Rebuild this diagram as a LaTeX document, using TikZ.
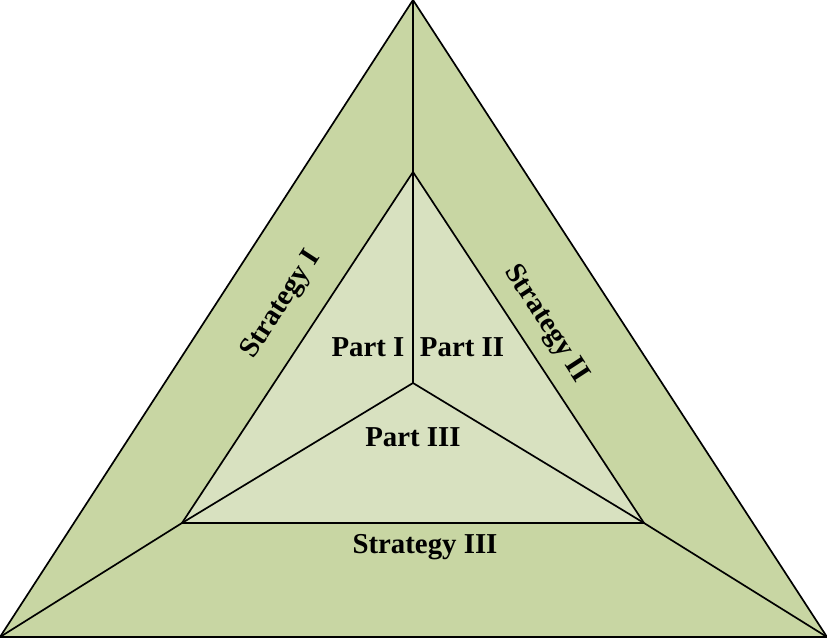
\documentclass[tikz,border=0pt]{standalone}
\usepackage{fontspec}
\setmainfont{Liberation Serif}
\definecolor{outergreen}{HTML}{C8D6A3}
\definecolor{innergreen}{HTML}{D8E1C0}

\begin{document}
\begin{tikzpicture}[x=0.025cm, y=-0.025cm, line width=1.2pt,
        label/.style={font=\fontsize{20.5}{24}\selectfont\bfseries, inner sep=0pt}]
        \useasboundingbox (0, 0) rectangle (827, 637);

        \coordinate (T) at (413, 0);
        \coordinate (L) at (0, 637);
        \coordinate (R) at (827, 637);
        \coordinate (t) at (413, 172);
        \coordinate (l) at (182, 523);
        \coordinate (r) at (644, 523);
        \coordinate (C) at (413, 383);

        \fill[outergreen] (T) -- (L) -- (R) -- cycle;
        \fill[innergreen] (t) -- (l) -- (r) -- cycle;

        \draw (T) -- (L) -- (R) -- cycle;
        \draw (t) -- (l) -- (r) -- cycle;
        \draw (T) -- (t);
        \draw (L) -- (l);
        \draw (R) -- (r);
        \draw (C) -- (t);
        \draw (C) -- (l);
        \draw (C) -- (r);

        \node[label, rotate=57]  (s1) at (282, 305) {Strategy I};
        \node[label, rotate=-57] (s2) at (546, 324) {Strategy II};
        \node[label]             (s3) at (425, 547) {Strategy III};

        \node[label] (p1) at (368, 347) {Part I};
        \node[label] (p2) at (462, 347) {Part II};
        \node[label] (p3) at (413, 437) {Part III};
    \end{tikzpicture}
\end{document}
